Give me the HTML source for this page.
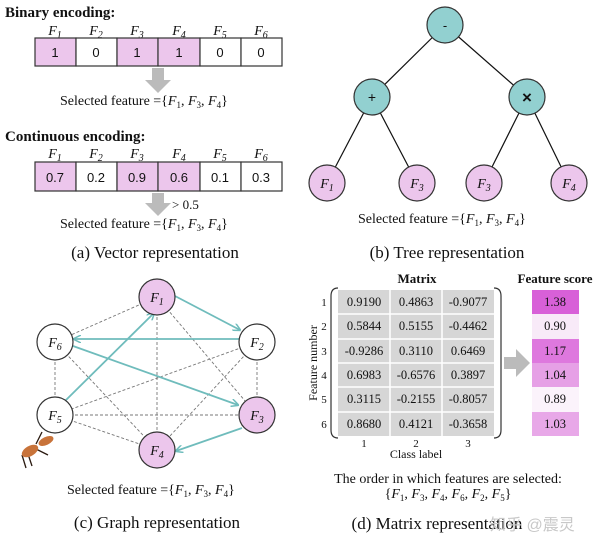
<!DOCTYPE html>
<html><head><style>body{margin:0;background:#fff}svg{display:block}text{font-family:"Liberation Serif",serif;fill:#111}.s{font-family:"Liberation Sans",sans-serif}</style></head><body>
<svg width="600" height="556" viewBox="0 0 600 556" xmlns="http://www.w3.org/2000/svg">
<defs><marker id="ar" markerWidth="8" markerHeight="8" refX="7" refY="4" orient="auto" markerUnits="userSpaceOnUse"><path d="M0,0L8,4L0,8" fill="none" stroke="#6fbcbc" stroke-width="1.5"/></marker></defs>
<!-- (a) -->
<text x="5" y="17" font-size="15" font-weight="bold">Binary encoding:</text>
<g font-size="14" font-style="italic" text-anchor="middle">
<text x="55" y="35">F<tspan font-size="10" dy="3">1</tspan></text><text x="96" y="35">F<tspan font-size="10" dy="3">2</tspan></text><text x="137" y="35">F<tspan font-size="10" dy="3">3</tspan></text><text x="179" y="35">F<tspan font-size="10" dy="3">4</tspan></text><text x="220" y="35">F<tspan font-size="10" dy="3">5</tspan></text><text x="261" y="35">F<tspan font-size="10" dy="3">6</tspan></text>
<text x="55" y="158">F<tspan font-size="10" dy="3">1</tspan></text><text x="96" y="158">F<tspan font-size="10" dy="3">2</tspan></text><text x="137" y="158">F<tspan font-size="10" dy="3">3</tspan></text><text x="179" y="158">F<tspan font-size="10" dy="3">4</tspan></text><text x="220" y="158">F<tspan font-size="10" dy="3">5</tspan></text><text x="261" y="158">F<tspan font-size="10" dy="3">6</tspan></text>
</g>
<g stroke="#333" stroke-width="1.2">
<rect x="35" y="38" width="41" height="28" fill="#ecc6ec"/><rect x="76" y="38" width="41" height="28" fill="#fff"/><rect x="117" y="38" width="41" height="28" fill="#ecc6ec"/><rect x="158" y="38" width="42" height="28" fill="#ecc6ec"/><rect x="200" y="38" width="41" height="28" fill="#fff"/><rect x="241" y="38" width="41" height="28" fill="#fff"/>
<rect x="35" y="162" width="41" height="29" fill="#ecc6ec"/><rect x="76" y="162" width="41" height="29" fill="#fff"/><rect x="117" y="162" width="41" height="29" fill="#ecc6ec"/><rect x="158" y="162" width="42" height="29" fill="#ecc6ec"/><rect x="200" y="162" width="41" height="29" fill="#fff"/><rect x="241" y="162" width="41" height="29" fill="#fff"/>
</g>
<g class="s" font-size="13" text-anchor="middle">
<text class="s" x="55" y="57">1</text><text class="s" x="96" y="57">0</text><text class="s" x="137" y="57">1</text><text class="s" x="179" y="57">1</text><text class="s" x="220" y="57">0</text><text class="s" x="261" y="57">0</text>
<text class="s" x="55" y="182">0.7</text><text class="s" x="96" y="182">0.2</text><text class="s" x="137" y="182">0.9</text><text class="s" x="179" y="182">0.6</text><text class="s" x="220" y="182">0.1</text><text class="s" x="261" y="182">0.3</text>
</g>
<path d="M152,68h12v12h7l-13,13l-13,-13h7z" fill="#bbb"/>
<path d="M152,193h12v10h7l-13,13l-13,-13h7z" fill="#bbb"/>
<text x="172" y="209" font-size="13">&gt; 0.5</text>
<text x="60" y="105" font-size="14">Selected feature =<tspan>{</tspan><tspan font-style="italic">F</tspan><tspan font-size="9" dy="3">1</tspan><tspan dy="-3">, </tspan><tspan font-style="italic">F</tspan><tspan font-size="9" dy="3">3</tspan><tspan dy="-3">, </tspan><tspan font-style="italic">F</tspan><tspan font-size="9" dy="3">4</tspan><tspan dy="-3">}</tspan></text>
<text x="5" y="141" font-size="15" font-weight="bold">Continuous encoding:</text>
<text x="60" y="228" font-size="14">Selected feature =<tspan>{</tspan><tspan font-style="italic">F</tspan><tspan font-size="9" dy="3">1</tspan><tspan dy="-3">, </tspan><tspan font-style="italic">F</tspan><tspan font-size="9" dy="3">3</tspan><tspan dy="-3">, </tspan><tspan font-style="italic">F</tspan><tspan font-size="9" dy="3">4</tspan><tspan dy="-3">}</tspan></text>
<text x="155" y="258" font-size="17" text-anchor="middle">(a)  Vector representation</text>
<!-- (b) -->
<g stroke="#111" stroke-width="1.2">
<line x1="445" y1="25" x2="372" y2="97"/><line x1="445" y1="25" x2="527" y2="97"/>
<line x1="372" y1="97" x2="327" y2="183"/><line x1="372" y1="97" x2="417" y2="183"/>
<line x1="527" y1="97" x2="484" y2="183"/><line x1="527" y1="97" x2="569" y2="183"/>
<g fill="#92d0d0" stroke="#333"><circle cx="445" cy="25" r="18"/><circle cx="372" cy="97" r="18"/><circle cx="527" cy="97" r="18"/></g>
<g fill="#ecc6ec" stroke="#333"><circle cx="327" cy="183" r="18"/><circle cx="417" cy="183" r="18"/><circle cx="484" cy="183" r="18"/><circle cx="569" cy="183" r="18"/></g>
</g>
<text class="s" x="445" y="30" font-size="13" text-anchor="middle">-</text>
<text class="s" x="372" y="102" font-size="14" text-anchor="middle">+</text>
<text class="s" x="527" y="103" font-size="17" font-weight="bold" text-anchor="middle">×</text>
<g font-size="14" font-style="italic" text-anchor="middle">
<text x="327" y="188">F<tspan font-size="10" dy="3">1</tspan></text><text x="417" y="188">F<tspan font-size="10" dy="3">3</tspan></text><text x="484" y="188">F<tspan font-size="10" dy="3">3</tspan></text><text x="569" y="188">F<tspan font-size="10" dy="3">4</tspan></text>
</g>
<text x="358" y="223" font-size="14">Selected feature =<tspan>{</tspan><tspan font-style="italic">F</tspan><tspan font-size="9" dy="3">1</tspan><tspan dy="-3">, </tspan><tspan font-style="italic">F</tspan><tspan font-size="9" dy="3">3</tspan><tspan dy="-3">, </tspan><tspan font-style="italic">F</tspan><tspan font-size="9" dy="3">4</tspan><tspan dy="-3">}</tspan></text>
<text x="447" y="258" font-size="17" text-anchor="middle">(b)  Tree representation</text>
<!-- (c) -->
<g stroke="#777" stroke-width="0.9" stroke-dasharray="3,2" fill="none">
<line x1="157" y1="297" x2="55" y2="342"/><line x1="157" y1="297" x2="157" y2="450"/><line x1="157" y1="297" x2="257" y2="415"/>
<line x1="55" y1="342" x2="55" y2="415"/><line x1="55" y1="342" x2="157" y2="450"/>
<line x1="257" y1="342" x2="257" y2="415"/><line x1="257" y1="342" x2="55" y2="415"/><line x1="257" y1="342" x2="157" y2="450"/>
<line x1="55" y1="415" x2="257" y2="415"/><line x1="55" y1="415" x2="157" y2="450"/>
</g>
<g stroke="#6fbcbc" stroke-width="1.8" fill="none" marker-end="url(#ar)">
<line x1="175" y1="296" x2="240" y2="330"/><line x1="239" y1="339" x2="74" y2="339"/>
<line x1="73" y1="346" x2="238" y2="405"/><line x1="66" y1="400" x2="154" y2="313"/>
<line x1="242" y1="428" x2="176" y2="451"/>
</g>
<g stroke="#333" stroke-width="1.2">
<circle cx="157" cy="297" r="18" fill="#ecc6ec"/><circle cx="55" cy="342" r="18" fill="#fff"/><circle cx="257" cy="342" r="18" fill="#fff"/><circle cx="55" cy="415" r="18" fill="#fff"/><circle cx="257" cy="415" r="18" fill="#ecc6ec"/><circle cx="157" cy="450" r="18" fill="#ecc6ec"/>
</g>
<g font-size="14" font-style="italic" text-anchor="middle">
<text x="157" y="302">F<tspan font-size="10" dy="3">1</tspan></text><text x="55" y="347">F<tspan font-size="10" dy="3">6</tspan></text><text x="257" y="347">F<tspan font-size="10" dy="3">2</tspan></text><text x="55" y="420">F<tspan font-size="10" dy="3">5</tspan></text><text x="257" y="420">F<tspan font-size="10" dy="3">3</tspan></text><text x="157" y="455">F<tspan font-size="10" dy="3">4</tspan></text>
</g>
<g stroke="#2a1a10" stroke-width="1.3"><line x1="22" y1="455" x2="26" y2="468"/><line x1="28" y1="454" x2="32" y2="466"/><line x1="34" y1="448" x2="48" y2="455"/><line x1="36" y1="444" x2="42" y2="432"/></g>
<ellipse cx="46" cy="441" rx="8" ry="4" fill="#c8733a" transform="rotate(-25 46 441)"/>
<ellipse cx="30" cy="451" rx="9" ry="5" fill="#c8733a" transform="rotate(-30 30 451)"/>
<text x="67" y="494" font-size="14">Selected feature =<tspan>{</tspan><tspan font-style="italic">F</tspan><tspan font-size="9" dy="3">1</tspan><tspan dy="-3">, </tspan><tspan font-style="italic">F</tspan><tspan font-size="9" dy="3">3</tspan><tspan dy="-3">, </tspan><tspan font-style="italic">F</tspan><tspan font-size="9" dy="3">4</tspan><tspan dy="-3">}</tspan></text>
<text x="157" y="528" font-size="17" text-anchor="middle">(c)  Graph representation</text>
<!-- (d) -->
<text x="417" y="283" font-size="13" font-weight="bold" text-anchor="middle">Matrix</text>
<text x="555" y="283" font-size="13" font-weight="bold" text-anchor="middle">Feature score</text>
<rect x="338" y="290" width="156" height="146" fill="#d6d6d6"/>
<g stroke="#fff" stroke-width="1.5"><line x1="390" y1="290" x2="390" y2="436"/><line x1="442" y1="290" x2="442" y2="436"/>
<line x1="338" y1="314" x2="494" y2="314"/><line x1="338" y1="339" x2="494" y2="339"/><line x1="338" y1="363" x2="494" y2="363"/><line x1="338" y1="387" x2="494" y2="387"/><line x1="338" y1="412" x2="494" y2="412"/></g>
<path d="M338,288 q-7,0 -7,8 v134 q0,8 7,8" fill="none" stroke="#333" stroke-width="1.2"/>
<path d="M494,288 q7,0 7,8 v134 q0,8 -7,8" fill="none" stroke="#333" stroke-width="1.2"/>
<g font-size="12.5" text-anchor="middle">
<text x="364" y="306">0.9190</text><text x="416" y="306">0.4863</text><text x="468" y="306">-0.9077</text>
<text x="364" y="330">0.5844</text><text x="416" y="330">0.5155</text><text x="468" y="330">-0.4462</text>
<text x="364" y="355">-0.9286</text><text x="416" y="355">0.3110</text><text x="468" y="355">0.6469</text>
<text x="364" y="379">0.6983</text><text x="416" y="379">-0.6576</text><text x="468" y="379">0.3897</text>
<text x="364" y="403">0.3115</text><text x="416" y="403">-0.2155</text><text x="468" y="403">-0.8057</text>
<text x="364" y="428">0.8680</text><text x="416" y="428">0.4121</text><text x="468" y="428">-0.3658</text>
<text x="364" y="447" font-size="11">1</text><text x="416" y="447" font-size="11">2</text><text x="468" y="447" font-size="11">3</text>
</g>
<text x="416" y="458" font-size="12" text-anchor="middle">Class label</text>
<g font-size="11" text-anchor="middle"><text x="324" y="306">1</text><text x="324" y="330">2</text><text x="324" y="355">3</text><text x="324" y="379">4</text><text x="324" y="403">5</text><text x="324" y="428">6</text></g>
<text x="0" y="0" font-size="12" text-anchor="middle" transform="translate(317,363) rotate(-90)">Feature number</text>
<path d="M504,357h12v-8l14,14l-14,14v-8h-12z" fill="#bbb"/>
<g><rect x="532" y="290" width="47" height="24" fill="#d860d8"/><rect x="532" y="314" width="47" height="25" fill="#f8eaf8"/><rect x="532" y="339" width="47" height="24" fill="#de78de"/><rect x="532" y="363" width="47" height="24" fill="#e6a0e6"/><rect x="532" y="387" width="47" height="25" fill="#fbf3fb"/><rect x="532" y="412" width="47" height="24" fill="#e8a8e8"/></g>
<g font-size="12.5" text-anchor="middle"><text x="555" y="306">1.38</text><text x="555" y="330">0.90</text><text x="555" y="355">1.17</text><text x="555" y="379">1.04</text><text x="555" y="403">0.89</text><text x="555" y="428">1.03</text></g>
<text x="448" y="483" font-size="14" text-anchor="middle">The order in which features are selected:</text>
<text x="448" y="498" font-size="14" text-anchor="middle">{<tspan font-style="italic">F</tspan><tspan font-size="9" dy="3">1</tspan><tspan dy="-3">, </tspan><tspan font-style="italic">F</tspan><tspan font-size="9" dy="3">3</tspan><tspan dy="-3">, </tspan><tspan font-style="italic">F</tspan><tspan font-size="9" dy="3">4</tspan><tspan dy="-3">, </tspan><tspan font-style="italic">F</tspan><tspan font-size="9" dy="3">6</tspan><tspan dy="-3">, </tspan><tspan font-style="italic">F</tspan><tspan font-size="9" dy="3">2</tspan><tspan dy="-3">, </tspan><tspan font-style="italic">F</tspan><tspan font-size="9" dy="3">5</tspan><tspan dy="-3">}</tspan></text>
<text x="437" y="529" font-size="17" text-anchor="middle">(d)  Matrix representation</text>
<text x="490" y="530" font-size="16" fill="#bbb" style="font-family:'Liberation Sans','Noto Sans CJK SC',sans-serif;fill:#c8c8c8">知乎 @震灵</text>
</svg>
</body></html>
